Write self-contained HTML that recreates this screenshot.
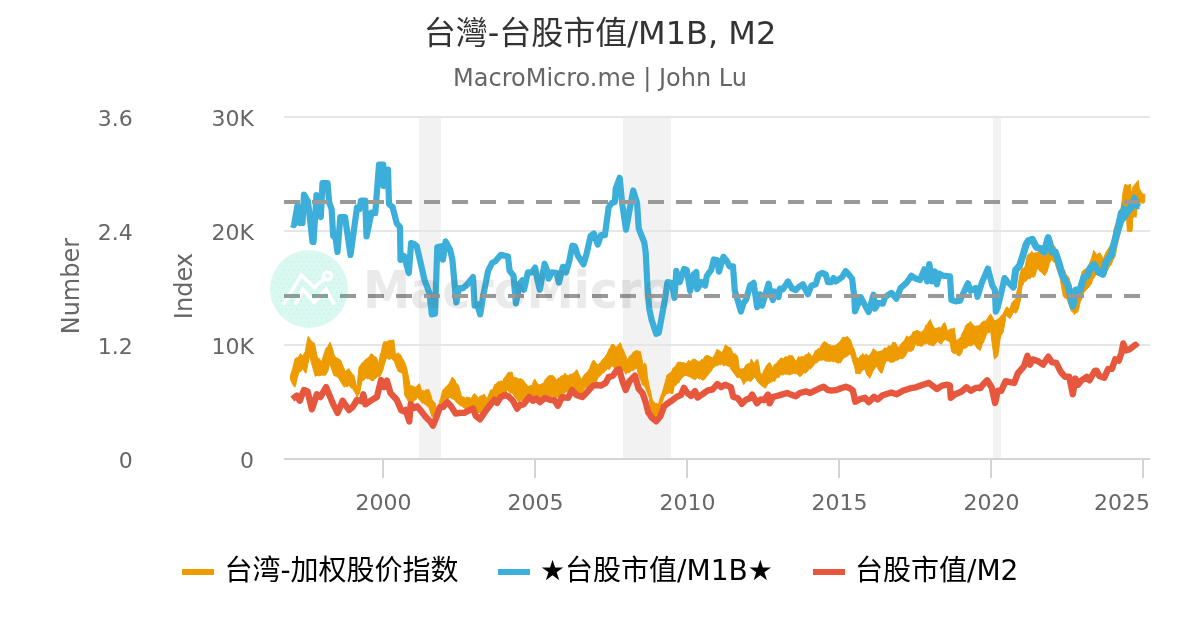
<!DOCTYPE html>
<html><head><meta charset="utf-8">
<style>
html,body{margin:0;padding:0;background:#fff;width:1200px;height:630px;overflow:hidden}
svg{display:block}
text{font-family:"DejaVu Sans","Noto Sans CJK TC",sans-serif}
.lg{font-family:"DejaVu Sans","Noto Sans CJK SC",sans-serif}
</style></head><body>
<svg width="1200" height="630" viewBox="0 0 1200 630">
<rect width="1200" height="630" fill="#fff"/>
<!-- plot bands -->
<rect x="419" y="117" width="22" height="342" fill="#f2f2f2"/>
<rect x="623" y="117" width="48" height="342" fill="#f2f2f2"/>
<rect x="993" y="117" width="8" height="342" fill="#f2f2f2"/>
<!-- grid -->
<g stroke="#e6e6e6" stroke-width="2">
<line x1="284" y1="117" x2="1150" y2="117"/>
<line x1="284" y1="231" x2="1150" y2="231"/>
<line x1="284" y1="345" x2="1150" y2="345"/>
</g>
<!-- x axis -->
<g stroke="#d4d4d4" stroke-width="2">
<line x1="284" y1="459" x2="1150" y2="459"/>
<line x1="383" y1="459" x2="383" y2="478"/>
<line x1="535" y1="459" x2="535" y2="478"/>
<line x1="687" y1="459" x2="687" y2="478"/>
<line x1="839" y1="459" x2="839" y2="478"/>
<line x1="991" y1="459" x2="991" y2="478"/>
<line x1="1143" y1="459" x2="1143" y2="478"/>
</g>
<!-- series -->
<path d="M290.4 375.7 L292.6 368.8 L294.7 360.7 L294.8 359.3 L297.0 357.4 L297.6 357.9 L299.2 355.9 L300.4 353.6 L301.4 354.6 L302.6 356.4 L303.6 354.5 L305.4 351.4 L305.8 348.6 L308.0 336.8 L308.3 336.4 L310.2 339.5 L312.4 342.2 L314.0 342.9 L314.6 344.2 L316.8 355.0 L317.6 358.6 L319.0 358.2 L321.2 361.6 L321.9 360.7 L323.4 356.0 L325.4 350.0 L325.6 348.7 L327.8 346.6 L329.7 342.9 L330.0 342.1 L332.2 348.0 L334.0 354.3 L334.4 355.8 L336.6 358.0 L338.3 358.6 L338.8 358.9 L341.0 360.7 L341.9 363.6 L343.2 366.6 L345.4 372.0 L345.4 371.4 L347.6 369.6 L349.0 368.6 L349.8 370.8 L352.0 373.4 L354.0 375.7 L354.2 376.5 L356.4 386.1 L356.9 388.6 L358.6 371.7 L359.0 367.1 L360.8 365.0 L361.9 362.9 L363.0 362.5 L365.2 359.9 L366.9 358.6 L367.4 358.3 L369.6 356.4 L370.4 354.3 L371.8 353.8 L374.0 355.9 L374.0 356.4 L376.2 357.3 L376.9 358.6 L378.3 364.3 L378.4 364.5 L380.6 353.2 L381.1 352.9 L382.8 344.8 L384.0 341.4 L385.0 342.2 L387.2 341.6 L389.4 340.4 L391.6 340.5 L393.8 339.8 L394.0 341.4 L395.4 354.3 L396.0 354.2 L398.2 353.0 L399.7 354.3 L400.4 354.5 L402.6 358.9 L402.6 358.6 L404.8 362.6 L405.7 365.0 L407.0 369.8 L409.2 380.5 L410.0 385.7 L411.4 385.8 L413.6 386.3 L414.3 387.1 L415.8 387.1 L418.0 385.0 L419.3 383.6 L420.2 385.5 L421.4 390.7 L422.4 390.5 L424.6 390.9 L425.7 390.0 L426.8 389.8 L429.0 389.7 L429.3 390.7 L431.2 396.2 L432.1 400.0 L433.4 401.4 L435.0 402.9 L435.6 405.2 L437.1 411.4 L437.8 408.6 L440.0 400.0 L440.7 398.6 L442.2 392.4 L442.9 390.0 L444.4 388.5 L446.6 385.9 L447.1 385.7 L448.8 383.9 L451.0 380.1 L452.1 377.1 L453.2 378.0 L455.4 380.7 L455.7 382.9 L457.6 384.2 L458.6 385.7 L459.8 390.0 L461.4 395.7 L462.0 396.8 L464.2 397.3 L465.7 398.6 L466.4 396.9 L468.6 397.5 L470.8 398.2 L471.4 398.6 L473.0 395.0 L475.0 393.6 L475.2 394.4 L477.4 396.6 L478.6 398.6 L479.6 396.2 L481.8 395.7 L484.0 394.3 L484.3 394.3 L486.2 397.6 L487.1 398.6 L488.4 395.6 L490.6 389.9 L491.4 390.0 L492.8 389.3 L495.0 384.1 L495.7 384.3 L497.2 382.4 L499.4 381.4 L501.6 380.9 L502.9 381.4 L503.8 378.6 L506.0 375.8 L507.9 372.9 L508.2 372.4 L510.4 372.3 L512.1 372.1 L512.6 374.6 L514.3 378.6 L514.8 377.2 L517.0 378.1 L519.2 379.2 L520.0 378.6 L521.4 379.1 L523.6 380.4 L523.6 380.7 L525.8 383.7 L527.9 386.4 L528.0 386.5 L530.2 385.6 L532.1 385.7 L532.4 384.2 L534.3 379.3 L534.6 379.1 L536.8 382.6 L537.9 384.3 L539.0 385.1 L541.2 384.0 L543.4 383.6 L543.6 382.9 L545.6 378.9 L545.7 379.3 L547.8 376.6 L550.0 375.4 L551.4 375.7 L552.2 375.2 L554.4 377.0 L556.4 380.0 L556.6 380.3 L558.8 377.5 L559.3 378.6 L561.0 376.1 L563.2 375.7 L565.0 372.9 L565.4 374.3 L567.6 375.7 L569.3 375.7 L569.8 374.3 L572.0 374.4 L573.6 372.9 L574.2 373.3 L576.4 369.9 L577.1 370.0 L578.6 373.8 L580.7 378.6 L580.8 379.5 L583.0 377.0 L583.6 375.7 L585.2 373.5 L587.4 372.1 L588.6 370.0 L589.6 368.4 L591.8 362.7 L593.6 360.0 L594.0 360.3 L596.2 363.3 L597.9 365.0 L598.4 364.2 L600.6 362.8 L601.4 360.7 L602.8 359.3 L605.0 357.1 L605.0 357.0 L607.2 353.4 L609.3 348.6 L609.4 349.4 L611.6 344.4 L612.9 344.3 L613.8 344.7 L616.0 347.4 L616.4 347.1 L618.2 345.0 L620.4 342.6 L620.7 343.6 L622.6 348.9 L623.6 350.0 L624.8 353.9 L627.0 358.7 L627.9 360.0 L629.2 356.7 L630.7 355.0 L631.4 355.1 L633.6 351.7 L635.0 351.4 L635.8 350.6 L638.0 351.0 L640.2 351.9 L640.3 351.4 L642.4 361.5 L642.7 364.9 L644.6 363.2 L645.9 364.1 L646.8 371.3 L647.5 377.6 L649.0 385.2 L651.2 394.3 L652.2 399.8 L653.4 401.3 L655.4 403.8 L655.6 403.3 L657.8 404.0 L658.6 403.8 L660.0 398.5 L661.7 393.5 L662.2 392.9 L664.4 384.9 L666.5 377.6 L666.6 375.8 L668.8 373.5 L671.0 372.7 L671.3 372.1 L673.2 368.0 L675.4 366.4 L676.8 364.1 L677.6 362.3 L679.8 362.2 L682.0 362.6 L682.4 362.5 L684.2 362.9 L686.4 363.7 L687.1 362.5 L688.6 360.3 L690.8 361.8 L691.9 360.2 L693.0 359.2 L695.2 359.3 L697.4 361.0 L698.3 361.7 L699.6 362.0 L701.8 359.2 L703.0 360.2 L704.0 357.3 L706.2 355.4 L707.0 355.4 L708.4 355.7 L710.6 357.0 L712.5 357.8 L712.8 357.5 L715.0 354.2 L717.2 349.1 L717.3 349.8 L719.4 350.8 L721.6 352.6 L722.1 352.2 L723.8 349.2 L725.2 345.1 L726.0 344.8 L728.2 347.1 L730.4 347.8 L730.8 348.3 L732.6 352.6 L733.2 353.8 L734.8 353.7 L737.0 355.5 L737.9 357.8 L739.2 368.0 L739.5 368.9 L741.4 369.2 L743.6 368.4 L744.3 368.1 L745.8 365.1 L748.0 363.8 L750.0 363.3 L750.2 362.8 L751.3 358.9 L752.4 361.1 L754.5 363.7 L754.6 362.8 L756.8 359.5 L757.7 359.7 L759.0 365.0 L760.1 372.4 L761.2 373.7 L762.5 374.8 L763.4 371.3 L765.6 367.6 L765.6 366.7 L767.8 364.1 L768.8 362.9 L770.0 362.6 L772.2 367.4 L772.8 367.6 L774.4 364.6 L776.6 363.6 L778.3 360.5 L778.8 361.0 L781.0 357.8 L783.2 359.0 L783.9 358.1 L785.4 356.6 L787.1 357.3 L787.6 356.6 L789.8 355.2 L792.0 356.0 L792.6 355.7 L794.2 358.7 L795.8 361.3 L796.4 360.9 L798.6 356.4 L799.0 357.3 L800.8 357.0 L803.0 356.3 L803.7 358.1 L805.2 354.9 L807.4 354.6 L808.5 352.5 L809.6 353.4 L811.7 356.5 L811.8 357.2 L814.0 353.9 L815.6 350.2 L816.2 351.1 L818.4 348.2 L819.6 349.4 L820.6 346.6 L822.8 342.8 L824.4 341.4 L825.0 342.1 L827.2 343.1 L829.1 345.4 L829.4 344.3 L831.6 345.9 L833.8 345.7 L833.9 346.2 L836.0 345.2 L837.1 343.8 L838.2 343.6 L840.4 340.8 L841.8 339.0 L842.6 337.3 L844.8 337.6 L846.6 337.5 L847.0 336.2 L849.2 338.8 L850.6 339.8 L851.4 342.7 L852.9 347.0 L853.6 347.9 L855.8 354.3 L856.1 356.5 L858.0 358.6 L859.3 358.1 L860.2 355.9 L862.4 354.4 L862.5 353.3 L864.6 355.5 L865.0 354.9 L866.8 354.1 L867.9 355.9 L869.0 355.9 L871.2 353.1 L873.4 348.6 L874.0 349.8 L875.6 350.4 L877.8 352.2 L878.3 351.5 L880.0 351.8 L881.8 350.6 L882.2 350.8 L884.4 348.0 L886.2 348.0 L886.6 348.7 L888.8 345.5 L890.6 346.3 L891.0 346.0 L893.2 341.9 L894.0 342.8 L895.4 342.6 L897.6 346.6 L898.4 347.1 L899.8 345.9 L902.0 342.6 L902.8 341.9 L904.2 340.7 L906.3 336.7 L906.4 335.9 L908.6 337.3 L910.6 335.8 L910.8 336.8 L913.0 331.7 L915.2 331.6 L915.9 330.6 L917.4 330.5 L919.6 331.7 L921.1 332.3 L921.8 331.7 L924.0 329.9 L926.2 324.8 L926.3 326.2 L928.4 322.0 L930.6 319.4 L930.7 321.0 L932.8 325.6 L935.0 329.2 L935.1 328.8 L937.2 328.1 L939.4 327.1 L940.3 328.8 L941.6 326.6 L943.8 323.1 L944.7 322.7 L946.0 325.9 L947.3 330.6 L948.2 330.7 L950.4 329.0 L952.6 328.8 L954.3 327.9 L954.8 332.0 L956.0 340.2 L957.0 340.5 L959.2 338.4 L961.3 336.7 L961.4 334.7 L963.6 330.9 L965.6 326.2 L965.8 325.3 L968.0 323.6 L970.0 322.7 L970.2 321.2 L972.4 324.3 L974.6 326.1 L975.2 326.2 L976.8 326.1 L979.0 325.7 L980.0 325.3 L981.2 323.0 L983.4 321.2 L985.5 321.0 L985.6 321.2 L987.8 318.1 L990.0 314.5 L990.7 314.0 L992.2 316.5 L994.2 321.0 L994.4 320.4 L995.0 321.0 L996.6 320.0 L998.8 318.7 L1001.0 316.1 L1002.1 314.6 L1003.2 313.8 L1005.4 308.7 L1006.9 306.7 L1007.6 308.0 L1009.8 309.1 L1010.1 308.3 L1012.0 302.5 L1012.5 301.9 L1014.2 300.5 L1015.6 298.7 L1016.4 293.8 L1018.0 287.6 L1018.6 283.2 L1019.6 276.5 L1020.8 271.2 L1022.0 268.6 L1023.0 268.6 L1025.2 266.2 L1025.2 265.9 L1027.4 255.2 L1027.5 255.9 L1029.1 253.5 L1029.6 254.4 L1031.8 251.3 L1033.1 252.7 L1034.0 253.6 L1036.2 252.3 L1036.3 253.5 L1038.4 251.3 L1040.2 252.7 L1040.6 252.0 L1042.6 255.9 L1042.8 256.0 L1045.0 255.6 L1047.2 253.4 L1047.4 253.6 L1049.4 247.9 L1051.3 245.6 L1051.6 246.0 L1053.8 245.1 L1055.3 247.2 L1056.0 250.1 L1058.2 254.3 L1058.5 256.7 L1060.4 262.6 L1061.7 264.7 L1062.6 267.1 L1064.8 270.7 L1065.6 274.2 L1067.0 275.2 L1069.2 278.4 L1069.6 280.6 L1071.4 286.4 L1073.6 295.4 L1074.4 299.6 L1075.8 295.2 L1077.5 291.7 L1078.0 290.2 L1080.2 280.0 L1082.3 271.0 L1082.4 271.7 L1084.6 269.3 L1086.8 268.7 L1087.1 269.4 L1089.0 264.6 L1091.2 259.1 L1093.4 252.0 L1093.4 250.3 L1095.6 253.0 L1096.6 255.2 L1097.8 253.9 L1099.8 252.8 L1100.0 252.8 L1102.2 256.9 L1102.9 259.9 L1104.4 256.0 L1106.1 252.0 L1106.6 251.3 L1108.8 248.1 L1109.3 247.2 L1111.0 244.3 L1112.5 240.9 L1113.2 236.3 L1113.8 230.3 L1115.4 224.8 L1117.0 220.8 L1117.6 218.8 L1119.8 211.4 L1121.0 208.1 L1122.0 201.5 L1123.3 190.6 L1124.2 187.2 L1124.9 184.3 L1126.4 185.1 L1128.6 185.1 L1130.5 184.3 L1130.8 188.3 L1131.3 193.8 L1133.0 186.9 L1133.7 185.9 L1135.2 184.1 L1137.4 181.5 L1138.4 180.3 L1139.2 189.0 L1139.6 188.9 L1141.8 192.7 L1142.4 193.0 L1144.0 194.7 L1144.8 193.8 L1144.8 201.7 L1144.0 203.1 L1141.8 203.1 L1139.6 202.6 L1137.6 203.3 L1137.4 206.4 L1136.0 217.6 L1135.2 216.2 L1133.0 217.6 L1132.9 216.0 L1132.1 231.1 L1130.8 231.5 L1128.6 231.4 L1127.3 231.1 L1126.5 217.6 L1126.4 218.3 L1124.2 215.8 L1124.1 216.0 L1122.0 225.8 L1121.7 225.6 L1119.8 234.9 L1119.4 236.7 L1117.6 243.8 L1117.0 246.2 L1115.4 255.0 L1115.0 256.7 L1113.2 259.6 L1111.0 265.1 L1109.3 266.3 L1108.8 268.0 L1106.6 271.8 L1106.1 274.2 L1104.4 275.6 L1102.9 277.4 L1102.2 277.1 L1100.0 275.4 L1098.2 274.2 L1097.8 273.8 L1095.6 275.1 L1093.4 278.8 L1093.4 277.4 L1091.2 284.0 L1090.2 285.3 L1089.0 287.3 L1086.8 288.8 L1084.6 292.1 L1083.9 291.7 L1082.4 297.2 L1080.7 301.2 L1080.2 302.3 L1078.0 311.6 L1077.5 312.3 L1075.8 312.7 L1074.4 314.7 L1073.6 312.6 L1071.4 311.3 L1071.2 310.7 L1069.2 305.0 L1067.0 299.4 L1066.4 298.0 L1064.8 298.0 L1063.3 296.4 L1062.6 292.5 L1060.4 280.2 L1060.1 277.4 L1058.2 272.5 L1056.0 266.5 L1055.3 263.1 L1053.8 262.2 L1051.6 258.9 L1051.3 259.9 L1049.4 262.9 L1049.0 264.7 L1047.2 271.4 L1045.0 275.1 L1045.0 275.7 L1042.8 273.7 L1041.0 271.7 L1040.6 271.9 L1038.4 269.2 L1037.1 268.6 L1036.2 271.7 L1034.7 276.5 L1034.0 277.3 L1031.8 276.5 L1029.6 279.2 L1029.1 278.1 L1027.4 279.2 L1026.7 280.5 L1025.2 281.6 L1024.4 281.3 L1023.0 285.1 L1022.0 286.0 L1020.8 296.1 L1020.4 300.3 L1018.8 306.7 L1018.6 308.2 L1016.4 312.7 L1015.6 313.0 L1014.2 312.1 L1012.5 313.0 L1012.0 315.2 L1009.8 318.6 L1009.3 317.8 L1007.6 316.7 L1006.1 314.6 L1005.4 319.8 L1003.7 328.9 L1003.2 332.0 L1001.0 335.4 L999.8 340.0 L998.8 348.8 L997.7 355.9 L996.6 357.2 L994.4 359.0 L994.2 357.6 L992.2 343.6 L990.7 331.4 L990.0 332.2 L987.8 332.5 L986.3 334.9 L985.6 337.0 L983.4 342.6 L982.9 341.9 L981.2 347.8 L980.0 350.6 L979.0 349.5 L976.8 347.9 L974.6 344.3 L973.5 343.7 L972.4 345.4 L970.2 345.9 L968.3 345.4 L968.0 346.4 L965.8 348.1 L963.6 348.3 L963.0 348.9 L961.4 353.8 L959.5 355.9 L959.2 355.9 L957.0 354.8 L955.2 352.4 L954.8 353.9 L952.6 352.7 L951.7 351.5 L950.4 344.6 L949.9 341.9 L948.2 341.1 L946.0 339.9 L945.6 339.3 L943.8 340.4 L942.1 342.8 L941.6 344.2 L939.4 342.9 L937.2 340.9 L936.8 341.9 L935.0 344.3 L933.3 346.3 L932.8 345.2 L930.6 345.1 L928.4 344.4 L926.3 341.9 L926.2 343.8 L924.0 343.9 L921.8 346.6 L921.1 346.3 L919.6 345.7 L917.4 345.9 L915.9 343.7 L915.2 344.7 L913.0 350.4 L912.4 350.6 L910.8 351.5 L908.6 351.0 L907.1 352.4 L906.4 354.3 L904.2 357.5 L902.0 358.8 L901.9 358.5 L899.8 358.3 L897.6 360.3 L896.7 360.2 L895.4 360.8 L893.2 362.2 L891.4 362.0 L891.0 362.7 L888.8 361.0 L886.6 360.9 L886.2 361.1 L884.4 365.3 L882.2 372.9 L881.8 373.3 L880.0 372.1 L877.8 368.3 L877.5 366.3 L875.6 367.3 L874.0 369.8 L873.4 370.0 L871.2 375.5 L869.6 378.6 L869.0 376.6 L866.8 374.7 L865.0 369.2 L864.6 369.4 L862.4 370.3 L860.9 372.4 L860.2 373.8 L858.0 373.4 L856.1 373.2 L855.8 373.4 L854.5 366.0 L853.6 364.1 L851.4 356.6 L850.6 354.1 L849.2 354.5 L847.0 356.4 L845.0 357.3 L844.8 357.0 L842.6 359.4 L840.4 363.2 L840.2 362.1 L838.2 363.2 L836.0 362.2 L833.9 360.5 L833.8 362.2 L831.6 361.0 L829.4 361.4 L827.5 361.3 L827.2 360.8 L825.0 361.2 L824.4 359.7 L822.8 360.1 L820.6 360.2 L819.6 360.5 L818.4 361.4 L816.2 363.2 L814.8 362.9 L814.0 365.1 L811.8 367.7 L810.1 369.2 L809.6 368.3 L807.4 371.4 L805.2 373.3 L803.7 372.4 L803.0 373.7 L800.8 376.2 L799.0 376.3 L798.6 375.1 L796.4 373.6 L795.8 374.0 L794.2 373.2 L792.0 374.0 L791.0 374.0 L789.8 375.1 L787.6 374.2 L785.4 374.0 L784.7 374.0 L783.2 375.0 L781.0 374.6 L779.9 375.6 L778.8 377.6 L776.6 377.4 L774.4 381.9 L774.4 380.3 L772.2 381.5 L770.0 382.5 L768.8 383.5 L767.8 383.7 L765.6 387.9 L764.8 388.3 L763.4 386.6 L761.2 385.6 L760.9 385.1 L759.0 383.2 L757.7 381.9 L756.8 380.7 L754.6 376.1 L754.5 377.1 L752.4 379.6 L750.2 382.0 L750.0 380.8 L748.0 380.5 L747.5 380.8 L745.8 381.3 L743.6 384.8 L743.5 384.0 L741.4 379.5 L739.5 377.6 L739.2 377.3 L737.0 377.6 L734.8 374.1 L734.8 374.4 L732.6 371.4 L730.4 368.7 L730.0 366.5 L728.2 366.3 L726.0 365.1 L725.2 364.9 L723.8 366.1 L721.6 364.0 L720.5 364.9 L719.4 364.4 L717.2 365.8 L715.7 365.7 L715.0 366.6 L712.8 368.0 L710.6 372.1 L709.4 372.9 L708.4 374.5 L706.2 377.2 L704.6 379.2 L704.0 380.0 L701.8 380.0 L699.8 377.6 L699.6 379.2 L697.4 377.6 L695.2 379.5 L693.5 379.2 L693.0 378.6 L690.8 377.6 L688.7 376.0 L688.6 376.4 L686.4 375.5 L684.2 375.5 L684.0 376.0 L682.0 378.0 L679.8 380.7 L679.2 382.4 L677.6 383.0 L675.4 385.9 L674.4 385.6 L673.2 391.1 L672.9 393.5 L671.0 393.5 L668.8 392.4 L668.1 393.5 L666.6 393.5 L664.4 396.8 L664.1 396.7 L662.2 402.2 L660.2 407.8 L660.0 407.8 L657.8 413.5 L656.2 415.7 L655.6 416.5 L653.4 414.5 L651.4 412.5 L651.2 411.8 L649.0 396.3 L649.0 396.7 L646.8 391.2 L645.9 388.7 L644.6 386.1 L642.4 384.7 L641.1 380.8 L640.2 379.5 L638.0 372.7 L637.1 368.1 L635.8 368.7 L635.0 368.6 L633.6 370.4 L631.4 370.4 L629.3 372.9 L629.2 372.2 L627.0 372.7 L625.7 374.3 L624.8 372.1 L622.6 369.4 L621.4 368.6 L620.4 369.1 L618.2 367.5 L617.9 368.6 L616.0 367.7 L613.8 367.2 L612.1 365.7 L611.6 365.7 L609.4 369.4 L607.2 368.6 L606.4 370.0 L605.0 371.6 L602.8 373.1 L600.7 375.0 L600.6 375.7 L598.4 376.8 L596.2 381.6 L595.0 381.6 L594.0 382.2 L591.8 382.3 L589.6 384.0 L589.3 384.4 L587.4 387.1 L585.2 388.0 L583.6 390.1 L583.0 391.0 L580.8 394.4 L580.0 394.4 L578.6 394.6 L576.4 392.4 L575.0 390.1 L574.2 391.7 L572.0 391.5 L569.8 391.9 L569.3 390.9 L567.6 391.9 L565.4 391.7 L565.0 393.0 L563.2 394.0 L561.0 394.8 L560.7 395.9 L558.8 397.2 L556.6 397.0 L555.0 396.6 L554.4 396.5 L552.2 395.9 L550.0 396.5 L549.3 397.3 L547.8 399.3 L545.6 396.7 L543.6 398.0 L543.4 398.0 L541.2 399.1 L539.0 397.8 L536.8 397.9 L536.4 398.7 L534.6 399.9 L532.4 398.3 L530.7 398.7 L530.2 397.7 L528.0 400.4 L525.8 398.8 L525.0 400.1 L523.6 402.2 L521.4 400.2 L520.0 401.6 L519.2 402.0 L517.1 400.1 L517.0 399.3 L514.8 397.1 L512.6 393.3 L511.4 392.9 L510.4 393.2 L508.2 390.8 L507.1 390.0 L506.0 392.6 L503.8 392.8 L502.9 394.3 L501.6 394.9 L499.4 398.4 L497.2 399.2 L495.7 400.0 L495.0 399.5 L492.8 402.9 L490.6 402.1 L490.0 402.9 L488.4 404.8 L486.2 409.1 L484.0 410.5 L482.1 414.3 L481.8 415.2 L479.6 412.2 L477.4 413.1 L477.1 411.4 L475.2 411.4 L473.0 410.6 L471.4 408.6 L470.8 407.6 L468.6 409.3 L466.4 410.2 L465.7 408.6 L464.2 408.2 L462.0 406.1 L460.0 405.7 L459.8 405.2 L457.6 403.5 L455.4 401.2 L455.0 400.0 L453.2 399.3 L451.0 398.0 L450.0 397.1 L448.8 398.4 L446.6 400.0 L445.7 398.6 L444.4 399.6 L442.2 403.6 L440.0 404.3 L440.0 403.9 L437.8 411.2 L437.1 411.4 L435.6 412.4 L433.4 416.5 L432.1 417.1 L431.2 414.3 L429.0 407.7 L428.6 407.1 L426.8 405.6 L424.6 404.2 L424.3 402.9 L422.4 403.2 L420.2 400.6 L420.0 400.0 L418.0 398.2 L417.1 397.1 L415.8 399.9 L414.3 400.0 L413.6 401.9 L411.4 401.8 L410.0 402.9 L409.2 403.0 L407.0 398.9 L405.0 395.7 L404.8 395.4 L402.6 372.9 L402.6 373.2 L400.4 372.5 L398.3 371.4 L398.2 371.3 L396.0 366.2 L394.0 360.0 L393.8 361.0 L391.6 358.1 L389.4 359.4 L387.2 358.3 L386.9 356.4 L385.0 362.4 L384.0 365.7 L382.8 370.4 L381.1 374.3 L380.6 375.6 L378.4 376.9 L377.6 375.7 L376.2 378.1 L374.0 379.3 L374.0 380.5 L371.8 380.8 L369.7 379.3 L369.6 378.6 L367.4 378.9 L365.4 377.1 L365.2 379.1 L363.0 380.4 L361.9 381.4 L360.8 386.4 L359.7 392.9 L358.6 394.3 L356.9 397.1 L356.4 395.0 L354.2 391.3 L352.6 388.6 L352.0 388.6 L349.8 386.6 L348.3 385.0 L347.6 386.8 L345.4 386.4 L344.0 387.1 L343.2 385.5 L341.0 382.3 L339.7 380.0 L338.8 378.2 L336.6 376.6 L334.4 375.6 L334.0 375.7 L332.2 370.5 L330.0 364.2 L329.7 362.9 L327.8 371.3 L326.9 372.9 L325.6 375.2 L323.4 375.2 L321.2 375.1 L319.7 375.7 L319.0 375.9 L316.8 375.4 L315.4 376.4 L314.6 374.0 L312.4 366.1 L310.2 358.1 L309.7 355.7 L308.0 363.5 L306.1 372.9 L305.8 373.3 L303.6 370.3 L302.6 367.9 L301.4 371.0 L299.2 372.0 L298.3 374.3 L297.0 378.7 L295.4 386.4 L294.8 387.2 L292.6 384.1 L290.4 379.3 Z" fill="#ee9b00" stroke="#ee9b00" stroke-width="1" stroke-linejoin="round"/>
<path d="M291.3 224.0 L294.0 225.0 L297.5 205.5 L299.5 223.0 L302.5 223.0 L304.0 194.5 L308.0 201.5 L312.5 242.0 L313.5 242.0 L316.5 195.0 L320.8 217.0 L322.5 183.0 L327.5 183.0 L329.2 202.6 L331.6 209.0 L333.2 236.0 L335.6 238.3 L337.5 252.0 L340.3 217.0 L345.0 217.0 L350.5 255.0 L357.0 207.4 L359.5 209.0 L361.0 200.5 L365.2 200.5 L366.5 236.5 L371.5 212.5 L375.3 213.0 L379.0 164.5 L383.2 164.5 L383.5 186.0 L384.8 169.5 L388.0 169.5 L389.0 204.0 L392.7 207.4 L396.7 223.3 L400.0 227.0 L400.5 260.0 L404.0 256.0 L408.8 273.0 L411.1 243.0 L414.0 244.0 L416.7 246.2 L419.9 259.7 L424.6 280.3 L429.4 293.0 L431.8 314.4 L435.0 313.7 L437.3 247.0 L441.3 246.2 L442.9 259.7 L445.6 241.4 L450.0 249.4 L452.4 259.7 L454.8 286.7 L456.4 302.5 L458.8 288.3 L462.7 288.3 L466.7 285.0 L473.0 277.1 L474.6 305.7 L477.0 304.0 L480.2 314.4 L483.4 294.6 L488.1 270.8 L492.1 262.9 L495.3 261.3 L500.8 254.9 L508.0 256.5 L509.6 270.8 L513.5 275.6 L515.9 303.3 L519.9 283.5 L522.4 280.3 L524.0 289.8 L527.9 272.4 L531.9 272.4 L535.1 267.6 L537.5 280.3 L539.8 289.8 L544.6 263.7 L547.8 272.4 L548.6 278.7 L551.7 272.4 L556.5 272.9 L558.9 282.7 L562.9 266.8 L566.0 272.4 L569.2 261.3 L572.4 245.7 L574.8 246.2 L577.9 255.7 L583.5 264.4 L586.7 253.3 L590.6 235.9 L593.8 233.5 L597.8 244.6 L601.0 235.1 L604.9 235.1 L608.6 207.6 L611.7 202.9 L614.9 202.0 L615.7 188.6 L619.7 177.8 L622.1 202.9 L626.0 229.8 L630.0 207.6 L633.2 190.5 L637.1 202.9 L638.7 228.3 L644.3 242.5 L645.7 252.5 L647.5 287.4 L649.2 308.3 L651.8 320.6 L656.2 333.7 L658.8 332.8 L661.4 318.8 L664.9 299.6 L667.5 282.1 L671.9 283.0 L674.5 297.9 L676.3 270.8 L679.8 282.1 L684.1 269.0 L686.7 269.9 L690.2 290.9 L693.7 274.3 L696.3 272.0 L697.2 289.1 L701.6 282.1 L705.1 285.6 L706.8 276.0 L711.2 269.9 L713.8 259.4 L717.3 260.3 L719.0 271.7 L723.4 256.8 L726.9 261.2 L729.5 266.4 L733.0 266.4 L734.8 290.9 L736.5 296.1 L740.9 311.5 L743.5 303.1 L746.1 299.6 L750.0 285.6 L753.6 282.9 L757.1 307.1 L760.0 294.3 L762.1 305.7 L768.6 283.6 L770.0 291.4 L772.9 300.0 L773.6 291.4 L776.4 292.1 L778.6 297.1 L780.0 288.6 L782.9 289.3 L787.9 281.4 L792.1 288.6 L795.7 290.0 L798.6 287.1 L802.9 284.3 L807.9 294.3 L811.4 285.7 L815.7 284.3 L818.6 275.0 L822.1 272.9 L825.7 274.3 L827.9 282.1 L831.4 282.1 L833.6 277.9 L835.7 281.4 L840.0 278.6 L842.1 277.1 L845.7 271.1 L848.6 274.3 L852.1 278.6 L854.3 297.1 L855.0 311.4 L860.7 297.1 L862.9 301.4 L868.6 312.1 L873.6 294.7 L875.0 308.6 L878.6 302.9 L882.9 303.6 L885.0 297.1 L891.4 292.9 L896.4 298.6 L900.7 287.9 L906.4 282.9 L911.4 275.7 L915.7 278.6 L920.0 280.0 L924.3 269.3 L927.1 281.4 L929.3 264.0 L932.1 281.4 L935.0 271.4 L936.9 284.3 L939.3 273.6 L942.9 275.7 L950.0 276.4 L951.4 300.0 L955.7 301.4 L960.0 300.7 L962.1 295.7 L967.9 283.2 L970.5 290.7 L975.7 288.1 L977.5 296.8 L981.8 282.9 L987.9 268.5 L992.3 285.5 L994.9 289.8 L995.8 311.7 L997.4 308.3 L1000.6 295.6 L1004.5 278.1 L1008.5 282.9 L1013.3 287.6 L1015.6 270.2 L1019.6 265.4 L1022.8 255.9 L1026.0 244.8 L1028.3 240.8 L1032.3 239.3 L1036.3 247.2 L1041.0 248.8 L1044.2 252.0 L1048.2 237.7 L1052.1 252.0 L1055.3 252.0 L1058.5 261.5 L1062.5 275.8 L1068.0 285.3 L1072.8 306.0 L1076.0 290.1 L1079.9 290.1 L1083.9 277.4 L1087.1 275.8 L1090.2 267.9 L1094.2 264.7 L1099.0 272.6 L1102.9 274.2 L1106.1 261.5 L1110.9 256.0 L1113.5 246.0 L1116.0 236.0 L1119.0 224.0 L1121.5 212.0 L1125.0 212.0 L1129.0 211.0 L1132.0 205.0 L1134.4 198.0 L1137.0 205.0 L1139.0 207.0" fill="none" stroke="#3bafda" stroke-width="6.2" stroke-linejoin="round" stroke-linecap="butt"/>
<path d="M1013.3 287.6 L1015.6 270.2 L1019.6 265.4 L1022.8 255.9 L1026.0 244.8 L1028.3 240.8 L1032.3 239.3 L1036.3 247.2 L1041.0 248.8 L1044.2 252.0 L1048.2 237.7 L1052.1 252.0 L1055.3 252.0 L1058.5 261.5 L1062.5 275.8 L1068.0 285.3 L1072.8 306.0 L1076.0 290.1 L1079.9 290.1 L1083.9 277.4 L1087.1 275.8 L1090.2 267.9 L1094.2 264.7 L1099.0 272.6 L1102.9 274.2 L1106.1 261.5 L1110.9 256.0 L1113.5 246.0 L1116.0 236.0 L1119.0 224.0 L1121.5 212.0" fill="none" stroke="#3bafda" stroke-width="7" stroke-linejoin="round" stroke-linecap="butt"/>
<!--BLUEBLOB--><path d="M1121.7 204.1 L1126 207 L1131.3 201.7 L1134.4 193.8 L1136.8 201.7 L1139.5 206 L1139.5 209.5 L1136 208.5 L1132 210 L1128 217.6 L1124 222.4 L1119.4 236.7 L1117 240 Z" fill="#3bafda"/>
<path d="M292.3 399.0 L296.9 395.7 L299.7 400.7 L304.0 390.0 L307.6 391.4 L311.9 409.3 L316.9 394.3 L320.4 397.1 L326.1 387.1 L332.6 402.9 L337.6 412.9 L342.6 400.7 L349.0 410.0 L352.6 407.1 L356.9 400.0 L361.9 401.4 L363.3 394.3 L365.4 404.3 L369.7 401.4 L374.0 398.6 L376.9 397.1 L381.1 380.0 L384.0 387.1 L386.9 380.7 L390.4 392.9 L396.9 400.0 L401.1 410.0 L404.0 411.4 L405.7 410.0 L409.3 421.4 L410.7 404.3 L414.3 407.9 L417.1 406.4 L421.4 411.4 L425.7 417.1 L430.7 422.1 L432.9 425.7 L436.4 417.1 L440.0 407.1 L442.9 407.1 L447.1 402.1 L450.7 405.7 L455.7 413.6 L460.0 412.9 L464.3 412.9 L468.6 410.7 L472.9 408.6 L475.7 415.7 L480.0 419.3 L484.3 412.9 L488.6 407.1 L494.3 400.0 L497.1 402.9 L500.7 397.1 L505.0 395.0 L508.6 396.4 L512.9 400.7 L517.1 408.6 L520.0 405.0 L523.6 404.3 L529.3 397.1 L532.9 400.7 L536.4 398.6 L540.0 402.1 L545.0 397.9 L550.7 400.0 L554.3 400.0 L557.9 405.7 L562.1 397.1 L567.9 397.9 L572.1 390.0 L576.4 395.0 L582.1 397.1 L586.4 392.9 L592.9 385.7 L596.4 385.0 L600.7 385.7 L605.7 382.9 L608.6 377.1 L612.9 375.7 L617.1 370.0 L619.3 369.3 L622.1 380.0 L625.7 390.0 L629.3 381.4 L633.6 377.1 L635.0 375.7 L636.3 380.8 L638.7 388.7 L642.7 393.5 L645.9 403.0 L648.3 412.5 L652.2 418.1 L656.2 421.3 L660.2 416.5 L664.1 406.2 L668.1 403.0 L672.9 399.8 L676.8 396.7 L680.8 395.1 L684.0 387.9 L687.1 392.7 L691.1 395.9 L695.1 391.1 L697.5 397.5 L702.2 394.3 L707.8 390.3 L712.5 389.5 L717.3 384.0 L721.3 387.1 L725.2 384.8 L730.8 387.1 L733.2 396.7 L737.9 398.3 L741.9 403.8 L745.9 399.8 L750.0 398.3 L752.1 394.6 L756.9 403.3 L760.9 399.4 L764.0 400.2 L768.0 394.6 L769.6 403.3 L772.8 397.0 L779.1 395.4 L787.1 393.0 L791.0 394.6 L795.8 396.2 L799.8 393.0 L806.1 391.4 L810.1 393.0 L814.8 390.6 L819.6 388.3 L823.6 386.7 L827.5 389.8 L831.5 390.6 L837.1 389.8 L841.0 388.3 L845.8 386.7 L849.8 388.3 L852.9 390.6 L855.3 401.7 L859.3 399.4 L865.0 397.8 L868.7 402.1 L874.0 396.9 L877.5 399.5 L882.7 395.2 L891.4 392.5 L896.7 394.3 L902.8 390.8 L910.6 388.2 L915.9 387.3 L922.9 384.7 L929.0 382.9 L936.8 389.0 L942.1 385.6 L947.3 384.7 L949.9 385.6 L950.8 397.8 L955.2 394.3 L961.3 391.7 L966.5 387.3 L970.9 390.8 L975.2 388.2 L980.0 387.3 L980.2 388.2 L983.7 383.8 L987.2 380.3 L991.6 387.3 L995.1 403.0 L997.7 390.8 L1001.2 390.8 L1005.6 381.2 L1009.9 382.1 L1014.3 382.9 L1017.8 373.3 L1023.9 366.3 L1027.4 355.9 L1030.0 364.6 L1032.6 359.4 L1037.9 361.1 L1043.1 364.6 L1048.3 356.7 L1051.8 362.0 L1056.2 362.9 L1060.6 371.6 L1064.9 376.8 L1069.3 376.8 L1072.8 394.3 L1075.4 378.6 L1078.0 384.7 L1081.5 380.3 L1086.7 376.8 L1089.4 380.3 L1095.0 370.7 L1096.7 370.8 L1099.2 375.9 L1104.3 377.8 L1108.1 368.9 L1111.9 368.9 L1115.1 359.4 L1118.9 360.6 L1121.4 353.0 L1123.3 343.5 L1125.9 350.5 L1129.7 349.2 L1135.4 344.8 L1137.3 347.3" fill="none" stroke="#e6573e" stroke-width="6.4" stroke-linejoin="round" stroke-linecap="butt"/>
<!-- dashed plot lines -->
<g stroke="#999" stroke-width="4" stroke-dasharray="16 12">
<line x1="284" y1="202" x2="1150" y2="202"/>
<line x1="284" y1="296" x2="1150" y2="296"/>
</g>
<!-- watermark -->
<mask id="wm" maskUnits="userSpaceOnUse" x="260" y="240" width="100" height="100">
<rect x="260" y="240" width="100" height="100" fill="#fff"/>
<g fill="none" stroke="#000" stroke-width="3.6" stroke-linejoin="miter" stroke-linecap="round">
<path d="M284 303.3 L301.3 275.3 L314.3 287.3 L324 279"/>
<path d="M295.7 303.3 L303 289.3 L314.3 302.3 L326 289.3 L333.7 303.3"/>
<circle cx="327.5" cy="275.9" r="4" stroke-width="3.5"/>
</g>
</mask>
<circle cx="309" cy="289" r="39" fill="#00ce98" fill-opacity="0.15" mask="url(#wm)"/>
<g fill="#9db8f2" fill-opacity="0.35" mask="url(#wm)"><circle cx="296.5" cy="257.4" r="0.55"/><circle cx="301.5" cy="257.4" r="0.55"/><circle cx="306.5" cy="257.4" r="0.55"/><circle cx="311.5" cy="257.4" r="0.55"/><circle cx="316.5" cy="257.4" r="0.55"/><circle cx="321.5" cy="257.4" r="0.55"/><circle cx="289.0" cy="261.7" r="0.55"/><circle cx="294.0" cy="261.7" r="0.55"/><circle cx="299.0" cy="261.7" r="0.55"/><circle cx="304.0" cy="261.7" r="0.55"/><circle cx="309.0" cy="261.7" r="0.55"/><circle cx="314.0" cy="261.7" r="0.55"/><circle cx="319.0" cy="261.7" r="0.55"/><circle cx="324.0" cy="261.7" r="0.55"/><circle cx="329.0" cy="261.7" r="0.55"/><circle cx="286.5" cy="266.1" r="0.55"/><circle cx="291.5" cy="266.1" r="0.55"/><circle cx="296.5" cy="266.1" r="0.55"/><circle cx="301.5" cy="266.1" r="0.55"/><circle cx="306.5" cy="266.1" r="0.55"/><circle cx="311.5" cy="266.1" r="0.55"/><circle cx="316.5" cy="266.1" r="0.55"/><circle cx="321.5" cy="266.1" r="0.55"/><circle cx="326.5" cy="266.1" r="0.55"/><circle cx="331.5" cy="266.1" r="0.55"/><circle cx="284.0" cy="270.4" r="0.55"/><circle cx="289.0" cy="270.4" r="0.55"/><circle cx="294.0" cy="270.4" r="0.55"/><circle cx="299.0" cy="270.4" r="0.55"/><circle cx="304.0" cy="270.4" r="0.55"/><circle cx="309.0" cy="270.4" r="0.55"/><circle cx="314.0" cy="270.4" r="0.55"/><circle cx="319.0" cy="270.4" r="0.55"/><circle cx="324.0" cy="270.4" r="0.55"/><circle cx="329.0" cy="270.4" r="0.55"/><circle cx="334.0" cy="270.4" r="0.55"/><circle cx="281.5" cy="274.8" r="0.55"/><circle cx="286.5" cy="274.8" r="0.55"/><circle cx="291.5" cy="274.8" r="0.55"/><circle cx="296.5" cy="274.8" r="0.55"/><circle cx="301.5" cy="274.8" r="0.55"/><circle cx="306.5" cy="274.8" r="0.55"/><circle cx="311.5" cy="274.8" r="0.55"/><circle cx="316.5" cy="274.8" r="0.55"/><circle cx="321.5" cy="274.8" r="0.55"/><circle cx="326.5" cy="274.8" r="0.55"/><circle cx="331.5" cy="274.8" r="0.55"/><circle cx="336.5" cy="274.8" r="0.55"/><circle cx="279.0" cy="279.1" r="0.55"/><circle cx="284.0" cy="279.1" r="0.55"/><circle cx="289.0" cy="279.1" r="0.55"/><circle cx="294.0" cy="279.1" r="0.55"/><circle cx="299.0" cy="279.1" r="0.55"/><circle cx="304.0" cy="279.1" r="0.55"/><circle cx="309.0" cy="279.1" r="0.55"/><circle cx="314.0" cy="279.1" r="0.55"/><circle cx="319.0" cy="279.1" r="0.55"/><circle cx="324.0" cy="279.1" r="0.55"/><circle cx="329.0" cy="279.1" r="0.55"/><circle cx="334.0" cy="279.1" r="0.55"/><circle cx="339.0" cy="279.1" r="0.55"/><circle cx="276.5" cy="283.5" r="0.55"/><circle cx="281.5" cy="283.5" r="0.55"/><circle cx="286.5" cy="283.5" r="0.55"/><circle cx="291.5" cy="283.5" r="0.55"/><circle cx="296.5" cy="283.5" r="0.55"/><circle cx="301.5" cy="283.5" r="0.55"/><circle cx="306.5" cy="283.5" r="0.55"/><circle cx="311.5" cy="283.5" r="0.55"/><circle cx="316.5" cy="283.5" r="0.55"/><circle cx="321.5" cy="283.5" r="0.55"/><circle cx="326.5" cy="283.5" r="0.55"/><circle cx="331.5" cy="283.5" r="0.55"/><circle cx="336.5" cy="283.5" r="0.55"/><circle cx="341.5" cy="283.5" r="0.55"/><circle cx="279.0" cy="287.8" r="0.55"/><circle cx="284.0" cy="287.8" r="0.55"/><circle cx="289.0" cy="287.8" r="0.55"/><circle cx="294.0" cy="287.8" r="0.55"/><circle cx="299.0" cy="287.8" r="0.55"/><circle cx="304.0" cy="287.8" r="0.55"/><circle cx="309.0" cy="287.8" r="0.55"/><circle cx="314.0" cy="287.8" r="0.55"/><circle cx="319.0" cy="287.8" r="0.55"/><circle cx="324.0" cy="287.8" r="0.55"/><circle cx="329.0" cy="287.8" r="0.55"/><circle cx="334.0" cy="287.8" r="0.55"/><circle cx="339.0" cy="287.8" r="0.55"/><circle cx="276.5" cy="292.2" r="0.55"/><circle cx="281.5" cy="292.2" r="0.55"/><circle cx="286.5" cy="292.2" r="0.55"/><circle cx="291.5" cy="292.2" r="0.55"/><circle cx="296.5" cy="292.2" r="0.55"/><circle cx="301.5" cy="292.2" r="0.55"/><circle cx="306.5" cy="292.2" r="0.55"/><circle cx="311.5" cy="292.2" r="0.55"/><circle cx="316.5" cy="292.2" r="0.55"/><circle cx="321.5" cy="292.2" r="0.55"/><circle cx="326.5" cy="292.2" r="0.55"/><circle cx="331.5" cy="292.2" r="0.55"/><circle cx="336.5" cy="292.2" r="0.55"/><circle cx="341.5" cy="292.2" r="0.55"/><circle cx="279.0" cy="296.5" r="0.55"/><circle cx="284.0" cy="296.5" r="0.55"/><circle cx="289.0" cy="296.5" r="0.55"/><circle cx="294.0" cy="296.5" r="0.55"/><circle cx="299.0" cy="296.5" r="0.55"/><circle cx="304.0" cy="296.5" r="0.55"/><circle cx="309.0" cy="296.5" r="0.55"/><circle cx="314.0" cy="296.5" r="0.55"/><circle cx="319.0" cy="296.5" r="0.55"/><circle cx="324.0" cy="296.5" r="0.55"/><circle cx="329.0" cy="296.5" r="0.55"/><circle cx="334.0" cy="296.5" r="0.55"/><circle cx="339.0" cy="296.5" r="0.55"/><circle cx="276.5" cy="300.9" r="0.55"/><circle cx="281.5" cy="300.9" r="0.55"/><circle cx="286.5" cy="300.9" r="0.55"/><circle cx="291.5" cy="300.9" r="0.55"/><circle cx="296.5" cy="300.9" r="0.55"/><circle cx="301.5" cy="300.9" r="0.55"/><circle cx="306.5" cy="300.9" r="0.55"/><circle cx="311.5" cy="300.9" r="0.55"/><circle cx="316.5" cy="300.9" r="0.55"/><circle cx="321.5" cy="300.9" r="0.55"/><circle cx="326.5" cy="300.9" r="0.55"/><circle cx="331.5" cy="300.9" r="0.55"/><circle cx="336.5" cy="300.9" r="0.55"/><circle cx="341.5" cy="300.9" r="0.55"/><circle cx="279.0" cy="305.2" r="0.55"/><circle cx="284.0" cy="305.2" r="0.55"/><circle cx="289.0" cy="305.2" r="0.55"/><circle cx="294.0" cy="305.2" r="0.55"/><circle cx="299.0" cy="305.2" r="0.55"/><circle cx="304.0" cy="305.2" r="0.55"/><circle cx="309.0" cy="305.2" r="0.55"/><circle cx="314.0" cy="305.2" r="0.55"/><circle cx="319.0" cy="305.2" r="0.55"/><circle cx="324.0" cy="305.2" r="0.55"/><circle cx="329.0" cy="305.2" r="0.55"/><circle cx="334.0" cy="305.2" r="0.55"/><circle cx="339.0" cy="305.2" r="0.55"/><circle cx="281.5" cy="309.6" r="0.55"/><circle cx="286.5" cy="309.6" r="0.55"/><circle cx="291.5" cy="309.6" r="0.55"/><circle cx="296.5" cy="309.6" r="0.55"/><circle cx="301.5" cy="309.6" r="0.55"/><circle cx="306.5" cy="309.6" r="0.55"/><circle cx="311.5" cy="309.6" r="0.55"/><circle cx="316.5" cy="309.6" r="0.55"/><circle cx="321.5" cy="309.6" r="0.55"/><circle cx="326.5" cy="309.6" r="0.55"/><circle cx="331.5" cy="309.6" r="0.55"/><circle cx="336.5" cy="309.6" r="0.55"/><circle cx="289.0" cy="313.9" r="0.55"/><circle cx="294.0" cy="313.9" r="0.55"/><circle cx="299.0" cy="313.9" r="0.55"/><circle cx="304.0" cy="313.9" r="0.55"/><circle cx="309.0" cy="313.9" r="0.55"/><circle cx="314.0" cy="313.9" r="0.55"/><circle cx="319.0" cy="313.9" r="0.55"/><circle cx="324.0" cy="313.9" r="0.55"/><circle cx="329.0" cy="313.9" r="0.55"/><circle cx="291.5" cy="318.3" r="0.55"/><circle cx="296.5" cy="318.3" r="0.55"/><circle cx="301.5" cy="318.3" r="0.55"/><circle cx="306.5" cy="318.3" r="0.55"/><circle cx="311.5" cy="318.3" r="0.55"/><circle cx="316.5" cy="318.3" r="0.55"/><circle cx="321.5" cy="318.3" r="0.55"/><circle cx="326.5" cy="318.3" r="0.55"/><circle cx="304.0" cy="322.6" r="0.55"/><circle cx="309.0" cy="322.6" r="0.55"/><circle cx="314.0" cy="322.6" r="0.55"/></g>
<text x="363" y="308" font-size="52" font-weight="bold" fill="#4a4a4a" fill-opacity="0.115" textLength="311" lengthAdjust="spacingAndGlyphs" style="font-family:'DejaVu Sans',sans-serif">MacroMicro</text>
<!-- title -->
<text x="600" y="44" text-anchor="middle" font-size="32" fill="#333">台灣-台股市值/M1B, M2</text>
<text x="600" y="86" text-anchor="middle" font-size="24" fill="#666">MacroMicro.me | John Lu</text>
<!-- y labels -->
<g font-size="22" fill="#666" text-anchor="end">
<text x="132.7" y="126">3.6</text>
<text x="132.7" y="240">2.4</text>
<text x="132.7" y="354">1.2</text>
<text x="132.7" y="468">0</text>
<text x="254" y="126">30K</text>
<text x="254" y="240">20K</text>
<text x="254" y="354">10K</text>
<text x="254" y="468">0</text>
</g>
<text transform="translate(79 286.1) rotate(-90)" text-anchor="middle" font-size="24" fill="#666">Number</text>
<text transform="translate(191.5 286.1) rotate(-90)" text-anchor="middle" font-size="24" fill="#666">Index</text>
<!-- x labels -->
<g font-size="22" fill="#666" text-anchor="middle">
<text x="383.4" y="510">2000</text>
<text x="535.4" y="510">2005</text>
<text x="687.4" y="510">2010</text>
<text x="839.4" y="510">2015</text>
<text x="991.4" y="510">2020</text>
<text x="1121.9" y="510">2025</text>
</g>
<!-- legend -->
<rect x="182" y="569" width="32" height="6" fill="#ee9b00"/>
<rect x="498" y="569" width="32" height="6" fill="#3bafda"/>
<rect x="813" y="569" width="32" height="6" fill="#e6573e"/>
<g font-size="28" fill="#000" class="lg">
<text x="224.5" y="580" class="lg">台湾-加权股价指数</text>
<text x="540" y="580" class="lg">★台股市值/M1B★</text>
<text x="855" y="580" class="lg">台股市值/M2</text>
</g>
</svg>
</body></html>
